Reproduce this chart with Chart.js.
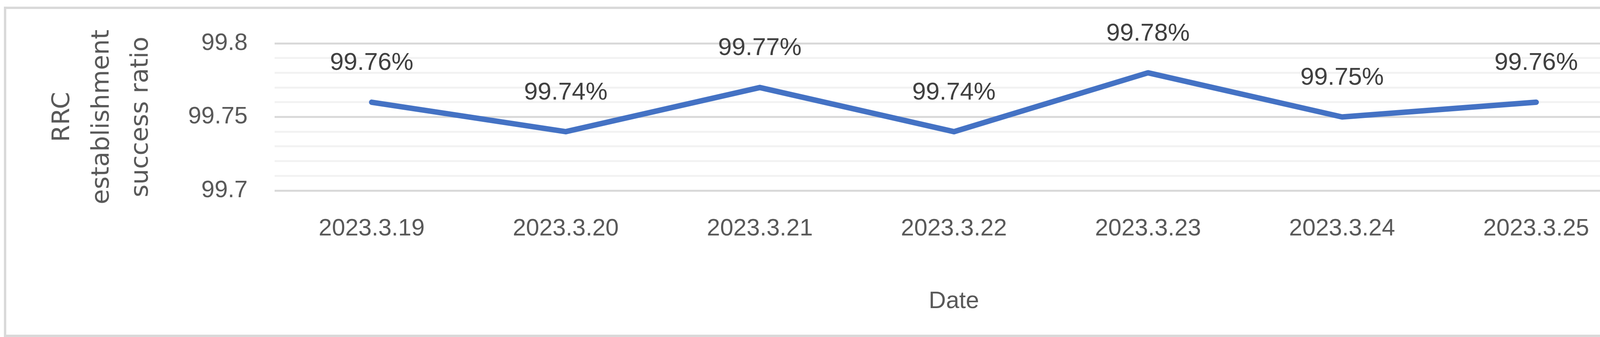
<!DOCTYPE html>
<html><head><meta charset="utf-8">
<script src="https://cdn.jsdelivr.net/npm/chart.js@4"></script>
<style>
html,body{margin:0;padding:0;background:#fff;overflow:hidden}
#wrap{position:absolute;left:0;top:0;width:4277px;height:863px}
#c{display:block;width:4277px;height:863px}
#frame{position:absolute;left:10px;top:17px;width:4252px;height:834px;border:6px solid #d9d9d9;pointer-events:none}
</style></head><body>
<div id="wrap"><canvas id="c" width="4277" height="863"></canvas></div>
<div id="frame"></div>
<script>
const categories = ["2023.3.19","2023.3.20","2023.3.21","2023.3.22","2023.3.23","2023.3.24","2023.3.25"];
const successRatio = [99.76, 99.74, 99.77, 99.74, 99.78, 99.75, 99.76];
const yTickLabels = {"99.7":"99.7","99.75":"99.75","99.8":"99.8"};
const yTitleLines = ["RRC","establishment","success ratio"];
const xTitle = "Date";

const target = {left:676, right:4181, top:111, bottom:488};

const labelPlugin = {
  id:'lbl',
  afterDatasetsDraw(chart){
    const ctx = chart.ctx, meta = chart.getDatasetMeta(0);
    ctx.save();
    ctx.font = '63px "Liberation Sans"';
    ctx.fillStyle = '#404040';
    ctx.textAlign = 'center'; ctx.textBaseline = 'middle';
    meta.data.forEach((p,i)=>{ ctx.fillText(successRatio[i].toFixed(2)+'%', p.x, p.y-100); });
    ctx.restore();
  }
};

const chart = new Chart(document.getElementById('c'), {
  type:'line',
  data:{labels:categories, datasets:[{data:successRatio, borderColor:'#4472C4', borderWidth:14, pointRadius:0, tension:0, borderCapStyle:'round', borderJoinStyle:'round'}]},
  options:{
    responsive:false, maintainAspectRatio:false, animation:false, devicePixelRatio:1,
    layout:{padding:{left:0,right:96,top:111,bottom:0}},
    plugins:{legend:{display:false}, tooltip:{enabled:false}},
    scales:{
      x:{
        offset:true,
        grid:{display:false, drawTicks:false},
        border:{display:false},
        ticks:{color:'#595959', font:{family:'Liberation Sans', size:61}, padding:62, maxRotation:0, autoSkip:false},
        title:{display:true, text:xTitle, color:'#595959', font:{family:'Liberation Sans', size:61}, padding:{top:50,bottom:0}}
      },
      y:{
        min:99.7, max:99.8,
        grid:{drawTicks:false, lineWidth:5, color:(c)=>{ const v=Math.round(c.tick.value*100); return v%5===0?'#d9d9d9':'#f2f2f2'; }},
        border:{display:false},
        ticks:{stepSize:0.01, autoSkip:false, padding:69, color:'#595959', font:{family:'Liberation Sans', size:61},
          callback:(v)=>{ const k=String(Math.round(v*100)/100); return yTickLabels[k]!==undefined?yTickLabels[k]:''; }},
        title:{display:true, text:yTitleLines, color:'#595959', font:{family:'DejaVu Sans', size:63, lineHeight:1.6}, padding:{top:110,bottom:0}}
      }
    }
  },
  plugins:[labelPlugin]
});

for (let i=0;i<4;i++){
  const a = chart.chartArea, p = chart.options.layout.padding;
  p.left = Math.max(0, p.left + (target.left - a.left));
  p.right = Math.max(0, p.right + (a.right - target.right));
  p.top = Math.max(0, p.top + (target.top - a.top));
  p.bottom = Math.max(0, p.bottom + (a.bottom - target.bottom));
  chart.update();
}
</script></body></html>
